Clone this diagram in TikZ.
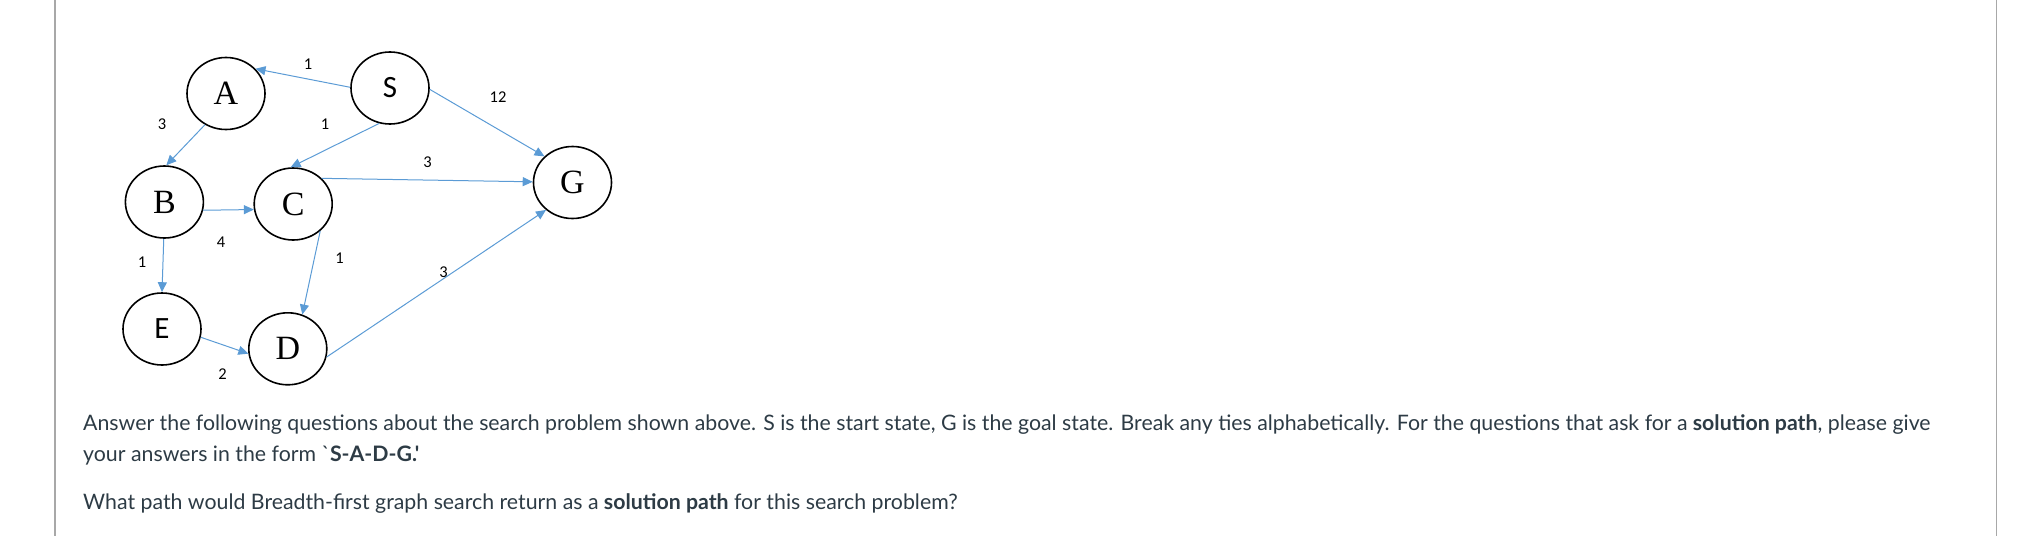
\documentclass[tikz,border=0pt]{standalone}
\usepackage{fontspec}
\setmainfont{Lato}[Ligatures=TeXOff]
\newfontfamily\timesfont{Liberation Serif}
\newfontfamily\calibrifont{Carlito}
\usetikzlibrary{arrows.meta,shapes.geometric}
\definecolor{edgeblue}{HTML}{5B9BD5}
\definecolor{canvastext}{HTML}{2D3B45}
\definecolor{bordergray}{HTML}{A8A8A8}

\begin{document}
\begin{tikzpicture}[x=1pt, y=-1pt,
    state/.style={ellipse, draw, line width=1.6pt, minimum width=78pt, minimum height=72pt, inner sep=0pt, font=\timesfont\fontsize{34}{34}\selectfont},
    sstate/.style={state, font=\calibrifont\fontsize{31}{31}\selectfont},
    weight/.style={inner sep=0pt, font=\calibrifont\fontsize{16.5}{16.5}\selectfont},
    link/.style={->, edgeblue, line width=1pt},
    question/.style={anchor=base west, inner sep=0pt, text=canvastext, font=\fontsize{21.3}{31}\selectfont},
    >={Triangle[length=10pt, width=9pt]}]
    \useasboundingbox (0,0) rectangle (2028,536);
    \draw[bordergray, line width=1.3pt] (55,0) -- (55,536);
    \draw[bordergray, line width=1.3pt] (1996.5,0) -- (1996.5,536);

    % states
    \node[state] (A) at (226,93.5) {A};
    \node[sstate] (S) at (390,88) {S};
    \node[state] (G) at (572.5,182.5) {G};
    \node[state] (B) at (164.4,202) {B};
    \node[state] (C) at (293.2,204) {C};
    \node[sstate] (E) at (162,329) {E};
    \node[state] (D) at (287.8,348.8) {D};

    % arcs
    \draw[link] (S.179) -- (A.40);
    \draw[link] (S.-2) -- (G.137);
    \draw[link] (A.-124) -- (B.87);
    \draw[link] (S.-107) -- (C.94);
    \draw[link] (C.42) -- (G.179);
    \draw[link] (B.-12) -- (C.188);
    \draw[link] (B.-91) -- (E.90);
    \draw[link] (C.-45) -- (D.67);
    \draw[link] (E.-12) -- (D.187);
    \draw[link] (D.-12) -- (G.-134);

    % costs
    \node[weight] (wSA) at (308,64) {1};
    \node[weight] (wSG) at (498,97.5) {12};
    \node[weight] (wAB) at (162,124.5) {3};
    \node[weight] (wSC) at (325,124.5) {1};
    \node[weight] (wCG) at (427.5,162.5) {3};
    \node[weight] (wBC) at (221,242) {4};
    \node[weight] (wBE) at (142,262) {1};
    \node[weight] (wCD) at (339.5,257.8) {1};
    \node[weight] (wDG) at (443.5,272.5) {3};
    \node[weight] (wED) at (222.5,374.5) {2};

    % question
    \node[question] (q1) at (83,430.7) {Answer the following questions about the search problem shown above. S is the start state, G is the goal state. Break any ties alphabetically. For the questions that ask for a \textbf{solution path}, please give};
    \node[question] (q2) at (83,461.7) {your answers in the form `\textbf{S-A-D-G.'}};
    \node[question] (q3) at (83,509.3) {What path would Breadth-first graph search return as a \textbf{solution path} for this search problem?};
\end{tikzpicture}
\end{document}
